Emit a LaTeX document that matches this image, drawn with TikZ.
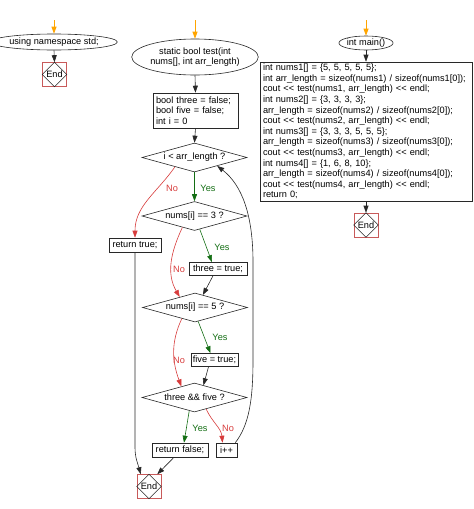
\documentclass[tikz,border=0pt]{standalone}
\usepackage{fontspec}
\setmainfont{Liberation Sans}
\usetikzlibrary{shapes.geometric,arrows.meta,calc}
\definecolor{edgegray}{RGB}{40,40,40}
\definecolor{endred}{RGB}{200,90,90}
\definecolor{nored}{RGB}{215,60,60}
\definecolor{yesgreen}{RGB}{20,110,20}
\definecolor{startorange}{RGB}{255,165,0}
\newcommand{\shl}{<\kern0pt<}
\begin{document}
\begin{tikzpicture}[x=1pt,y=1pt,
  font=\fontsize{9.2}{10.6}\selectfont,
  every node/.style={inner sep=0pt},
  proc/.style={draw=edgegray,line width=0.6pt,rectangle,align=center},
  dec/.style={draw=edgegray,line width=0.6pt,diamond,aspect=3.6,minimum width=105,minimum height=29},
  term/.style={draw=edgegray,line width=0.6pt,ellipse,align=center},
  endbox/.style={draw=endred,line width=0.6pt,rectangle,minimum width=24,minimum height=24},
  tip/.style={-{Triangle[length=7pt,width=5pt]}},
  blk/.style={tip,draw=edgegray,line width=0.6pt},
  yes/.style={tip,draw=yesgreen,line width=0.6pt},
  no/.style={tip,draw=nored,line width=0.6pt},
  st/.style={tip,draw=startorange,line width=0.8pt},
  yeslab/.style={text=yesgreen},
  nolab/.style={text=nored}
]
\useasboundingbox (0,0) rectangle (474,-509);

% left: using namespace std
\coordinate (s1) at (54,-20);
\node[term,minimum width=100,minimum height=16] (uns) at (54,-42) {using namespace std;};
\node[endbox] (e1) at (54.5,-74.5) {End};
\draw[edgegray,line width=0.5pt] (e1.north) -- (e1.east) -- (e1.south) -- (e1.west) -- cycle;
\draw[st] (s1) -- (uns.north);
\draw[blk] (uns.south) -- (e1.north);

% middle: test
\coordinate (s2) at (195,-20);
\node[term,minimum width=106,minimum height=36] (test) at (195,-57) {static bool test(int\\nums[], int arr\_length)};
\node[proc,minimum width=85,minimum height=35,align=left,text width=79] (init) at (195.5,-110.5) {bool three = false;\\bool five = false;\\int i = 0};
\node[dec] (d1) at (194.5,-157.5) {i < arr\_length ?};
\node[dec] (d2) at (194.5,-216) {nums[i] == 3 ?};
\node[proc,minimum width=52,minimum height=14] (rt) at (135,-245) {return true;};
\node[proc,minimum width=58,minimum height=13] (tt) at (218,-269) {three = true;};
\node[dec] (d3) at (195,-307.5) {nums[i] == 5 ?};
\node[proc,minimum width=47,minimum height=13] (ft) at (214.5,-360) {five = true;};
\node[dec] (d4) at (194.5,-397.5) {three \&\& five ?};
\node[proc,minimum width=56,minimum height=14] (rf) at (180,-450) {return false;};
\node[proc,minimum width=21,minimum height=14] (ipp) at (226.5,-450) {i++};
\node[endbox] (e2) at (149,-486.5) {End};
\draw[edgegray,line width=0.5pt] (e2.north) -- (e2.east) -- (e2.south) -- (e2.west) -- cycle;

\draw[st] (s2) -- (test.north);
\draw[blk] (test.south) -- (init.north);
\draw[blk] (init.south) -- (d1.north);

\draw[no] ($(d1.west)!0.63!(d1.south)$) to[out=235,in=90] (rt.north);
\node[nolab] (l1) at (172,-188) {No};
\draw[yes] (d1.south) -- (d2.north);
\node[yeslab] (l2) at (208,-188) {Yes};

\draw[yes] ($(d2.south)!0.1!(d2.east)$) -- ($(tt.north)+(-6,0)$);
\node[yeslab] (l3) at (222,-247) {Yes};
\draw[no] ($(d2.west)!0.77!(d2.south)$) to[out=245,in=120] ($(d3.west)!0.71!(d3.north)$);
\node[nolab] (l4) at (179,-269) {No};
\draw[blk] ($(tt.south)+(-5,0)$) -- ($(d3.north)!0.15!(d3.east)$);

\draw[yes] ($(d3.south)!0.06!(d3.east)$) -- ($(ft.north)+(-4,0)$);
\node[yeslab] (l5) at (220,-337) {Yes};
\draw[no] ($(d3.west)!0.75!(d3.south)$) to[out=245,in=110] ($(d4.west)!0.75!(d4.north)$);
\node[nolab] (l6) at (179,-360) {No};
\draw[blk] ($(ft.south)+(-6,0)$) -- ($(d4.north)!0.17!(d4.east)$);

\draw[yes] ($(d4.west)!0.9!(d4.south)$) -- ($(rf.north)+(4,0)$);
\node[yeslab] (l7) at (200,-428) {Yes};
\draw[no] ($(d4.south)!0.22!(d4.east)$) to[out=-65,in=95] ($(ipp.north)+(-4,0)$);
\node[nolab] (l8) at (228,-428) {No};

\draw[blk] ($(ipp.north east)+(-2,0)$) .. controls (249,-425) and (253,-400) .. (253,-360)
   -- (253,-262) .. controls (253,-215) and (242,-185) .. ($(d1.south)!0.43!(d1.east)$);

\draw[blk] (rt.south) -- ++(0,-195) to[out=-90,in=105] ($(e2.north west)+(4,0)$);
\draw[blk] ($(rf.south)+(-6,0)$) -- ($(e2.north east)+(-4,0)$);

% right: main
\coordinate (s3) at (366,-20);
\node[term,minimum width=48,minimum height=14] (main) at (366,-43) {int main()};
\node[proc,minimum width=212,minimum height=139,align=left,text width=206] (body) at (366,-131.5) {int nums1[] = \{5, 5, 5, 5, 5\};\\
int arr\_length = sizeof(nums1) / sizeof(nums1[0]);\\
cout \shl{} test(nums1, arr\_length) \shl{} endl;\\
int nums2[] = \{3, 3, 3, 3\};\\
arr\_length = sizeof(nums2) / sizeof(nums2[0]);\\
cout \shl{} test(nums2, arr\_length) \shl{} endl;\\
int nums3[] = \{3, 3, 3, 5, 5, 5\};\\
arr\_length = sizeof(nums3) / sizeof(nums3[0]);\\
cout \shl{} test(nums3, arr\_length) \shl{} endl;\\
int nums4[] = \{1, 6, 8, 10\};\\
arr\_length = sizeof(nums4) / sizeof(nums4[0]);\\
cout \shl{} test(nums4, arr\_length) \shl{} endl;\\
return 0;};
\node[endbox] (e3) at (366,-225) {End};
\draw[edgegray,line width=0.5pt] (e3.north) -- (e3.east) -- (e3.south) -- (e3.west) -- cycle;
\draw[st] (s3) -- (main.north);
\draw[blk] (main.south) -- (body.north);
\draw[blk] (body.south) -- (e3.north);
\end{tikzpicture}
\end{document}
